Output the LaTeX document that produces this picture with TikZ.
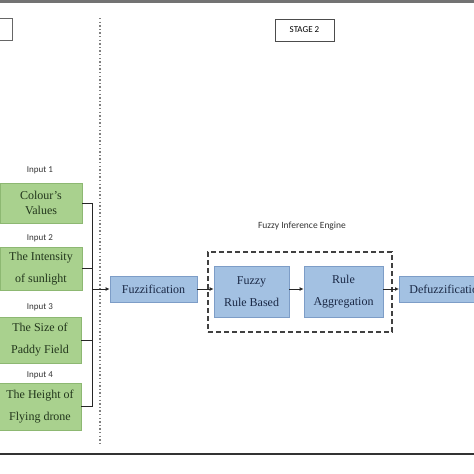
\documentclass[tikz,border=0pt]{standalone}
\usepackage{fontspec}
\setmainfont{Liberation Serif}
\newfontfamily\calib{Carlito}
\usetikzlibrary{arrows.meta}
\definecolor{gfill}{HTML}{A9D18E}
\definecolor{gdraw}{HTML}{8DB872}
\definecolor{gtext}{HTML}{22361C}
\definecolor{bfill}{HTML}{A3C1E2}
\definecolor{bdraw}{HTML}{7D9DC7}
\definecolor{btext}{HTML}{1A2845}
\tikzset{
  x=1pt,y=-1pt,
  greenbox/.style={draw=gdraw,fill=gfill,line width=0.8pt,text=gtext,align=center,inner sep=0pt,font=\fontsize{12}{22}\selectfont},
  bluebox/.style={draw=bdraw,fill=bfill,line width=0.8pt,text=btext,align=center,inner sep=0pt,font=\fontsize{12}{22}\selectfont},
  lbl/.style={text=black!80,font=\calib\fontsize{9}{11}\selectfont,inner sep=0pt},
  conn/.style={line width=0.8pt,draw=black!85},
  arr/.style={conn,-{Latex[length=4pt,width=4pt]}},
}
\begin{document}
\begin{tikzpicture}
\useasboundingbox (0,0) rectangle (474,474);
\clip (0,0) rectangle (474,474);
% frame lines
\fill[black!55] (0,0) rectangle (474,3);
\draw[black!80,line width=1.5pt] (0,454) -- (474,454);
% partial stage 1 box
\draw[black!60,line width=0.8pt] (-20,18) rectangle (12,40);
% divider
\coordinate (divtop) at (100,18);
\coordinate (divbot) at (100,445);
\draw[black!50,line width=1.4pt,dash pattern=on 1.4pt off 2.2pt] (divtop) -- (divbot);
% stage 2
\node[draw=black!70,line width=0.8pt,minimum width=59pt,minimum height=22pt,inner sep=0pt,font=\calib\fontsize{9}{11}\selectfont] (stage2) at (304.5,30) {STAGE 2};
% inputs
\node[lbl] (l1) at (40,170) {Input 1};
\node[lbl] (l2) at (40,238) {Input 2};
\node[lbl] (l3) at (40,307) {Input 3};
\node[lbl] (l4) at (40,375) {Input 4};
\node[greenbox,minimum width=82pt,minimum height=40pt,font=\fontsize{12}{15}\selectfont] (b1) at (41,203) {Colour's\\Values};
\node[greenbox,minimum width=82pt,minimum height=43pt] (b2) at (41,268.5) {The Intensity\\of sunlight};
\node[greenbox,minimum width=82pt,minimum height=46pt] (b3) at (40,340) {The Size of\\Paddy Field};
\node[greenbox,minimum width=82pt,minimum height=47pt] (b4) at (40,406.5) {The Height of\\Flying drone};
% bus
\coordinate (busx) at (92,0);
\draw[conn] (b1.east) -- (b1.east -| busx) -- (b4.east -| busx) -- (b4.east);
\draw[conn] (b2.east) -- (b2.east -| busx);
\draw[conn] (b3.east) -- (b3.east -| busx);
% fuzzification
\node[bluebox,minimum width=87pt,minimum height=26pt] (fuz) at (153.5,289) {Fuzzification};
\draw[arr] (busx |- fuz.west) -- (fuz.west);
% inference engine
\node[draw=black!75,dashed,dash pattern=on 5pt off 3pt,line width=1.1pt,minimum width=184pt,minimum height=80pt,inner sep=0pt] (fie) at (300,292) {};
\node[font=\calib\fontsize{9.5}{11}\selectfont,text=black!80,inner sep=0pt] (fielbl) at (302,226) {Fuzzy Inference Engine};
\node[bluebox,minimum width=75pt,minimum height=51pt] (frb) at (251.5,291.5) {Fuzzy\\Rule Based};
\node[bluebox,minimum width=79pt,minimum height=51pt] (ra) at (343.5,291.5) {Rule\\Aggregation};
\node[bluebox,minimum width=90pt,minimum height=26pt,anchor=west,text width=84pt,align=left] (def) at (399,289) {\hspace*{7pt}Defuzzification};
\draw[arr] (fuz.east) -- (fuz.east -| frb.west);
\draw[arr] (frb.east |- fuz.east) -- (ra.west |- fuz.east);
\draw[arr] (ra.east |- fuz.east) -- (def.west);
\end{tikzpicture}
\end{document}
